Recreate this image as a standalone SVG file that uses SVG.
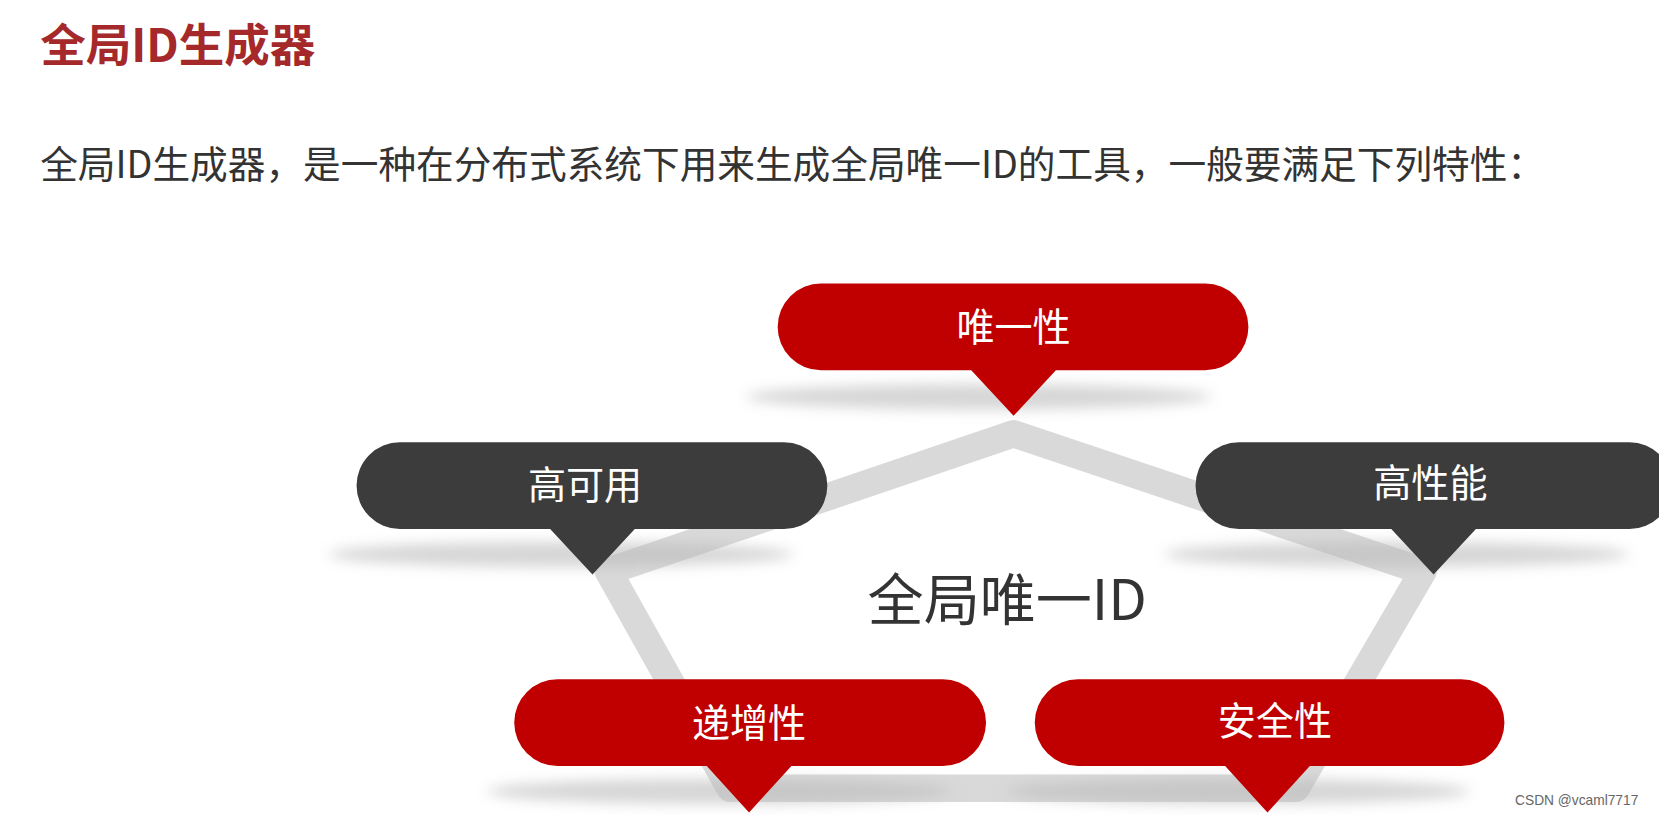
<svg xmlns="http://www.w3.org/2000/svg" width="1659" height="815" viewBox="0 0 1659 815">
<style>
.t{font-family:"Noto Sans CJK SC","Liberation Sans",sans-serif}
.lbl{font-size:36px;fill:#fff;text-anchor:middle}
.red{fill:#c00000}
.dark{fill:#3c3c3c}
.sh{fill:#bbb;opacity:.6;filter:url(#b)}
</style>
<defs><filter id="b" x="-20%" y="-200%" width="140%" height="500%"><feGaussianBlur stdDeviation="6"/></filter></defs>
<rect width="1659" height="815" fill="#fff"/>
<g transform="scale(1.058)">
<text class="t" x="38" y="59" font-size="43" font-weight="bold" fill="#a5282a">全局ID生成器</text>
<text class="t" x="38" y="168" font-size="35.6" fill="#333">全局ID生成器，是一种在分布式系统下用来生成全局唯一ID的工具，一般要满足下列特性：</text>
<g id="connectors" stroke="#d9d9d9" stroke-width="26" fill="none" stroke-linejoin="round">
<path d="M958,410 L575,540 L690,745 L1225,745 L1345,540 Z"/>
</g>
<text class="t" x="952" y="586" font-size="53" fill="#333" text-anchor="middle">全局唯一ID</text>
<g id="n1"><ellipse class="sh" cx="925" cy="375" rx="220" ry="12"/><path class="red" d="M776,268 H1139 A41,41 0 0 1 1139,350 H998 L958,393 L918,350 H776 A41,41 0 0 1 776,268 Z"/><text class="t lbl" x="958" y="322">唯一性</text></g>
<g id="n2"><ellipse class="sh" cx="530" cy="524" rx="220" ry="12"/><path class="dark" d="M378,418 H741 A41,41 0 0 1 741,500 H600 L560,543 L520,500 H378 A41,41 0 0 1 378,418 Z"/><text class="t lbl" x="553" y="472">高可用</text></g>
<g id="n3"><ellipse class="sh" cx="1320" cy="524" rx="220" ry="12"/><path class="dark" d="M1171,418 H1540 A41,41 0 0 1 1540,500 H1395 L1355,543 L1315,500 H1171 A41,41 0 0 1 1171,418 Z"/><text class="t lbl" x="1352" y="470">高性能</text></g>
<g id="n4"><ellipse class="sh" cx="680" cy="748" rx="220" ry="12"/><path class="red" d="M527,642 H891 A41,41 0 0 1 891,724 H748 L708,768 L668,724 H527 A41,41 0 0 1 527,642 Z"/><text class="t lbl" x="708" y="697">递增性</text></g>
<g id="n5"><ellipse class="sh" cx="1170" cy="748" rx="220" ry="12"/><path class="red" d="M1019,642 H1381 A41,41 0 0 1 1381,724 H1238 L1198,768 L1158,724 H1019 A41,41 0 0 1 1019,642 Z"/><text class="t lbl" x="1205" y="695">安全性</text></g>
<text x="1432" y="761" font-family="Liberation Sans,sans-serif" font-size="13" fill="#666">CSDN @vcaml7717</text>
</g>
</svg>
